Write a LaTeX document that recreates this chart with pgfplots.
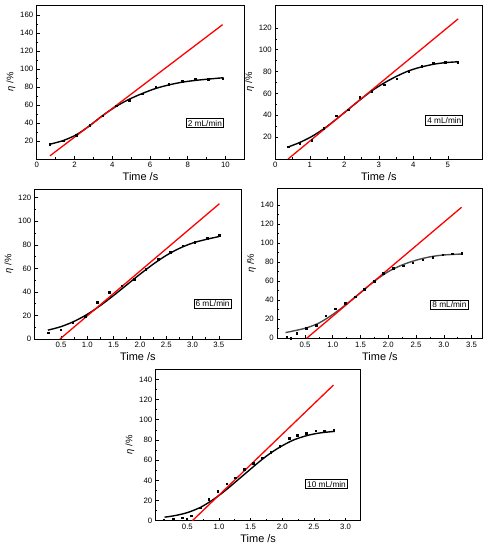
\documentclass[border=0pt]{standalone}
\usepackage{pgfplots}
\pgfplotsset{compat=1.18}
\usepackage{fontspec}
\setmainfont{Liberation Sans}
\tikzset{
  fitline/.style={black, line width=1.4pt, smooth, tension=0.5},
  pts/.style={only marks, mark=square*, mark size=0.75pt, black},
  tang/.style={red, line width=1.3pt},
  lab/.style={draw, line width=0.9pt, inner sep=1.6pt, font=\fontsize{8.3}{9}\selectfont, fill=white},
}
\pgfplotsset{panel/.style={
  scale only axis, anchor=south west,
  axis line style={line width=0.9pt},
  tick align=inside, xtick pos=bottom, ytick pos=left,
  tick style={black, line width=0.6pt},
  major tick length=3pt, minor tick length=1.8pt,
  minor x tick num=1, minor y tick num=1,
  ticklabel style={font=\fontsize{7.8}{8}\selectfont},
  /pgf/number format/assume math mode=true,
  xlabel style={font=\fontsize{11}{12}\selectfont, yshift=2pt},
  ylabel style={font=\fontsize{9.5}{10}\selectfont, yshift=-2pt},
  xlabel={Time /s}, ylabel={\textit{η} /\%},
}}
\begin{document}
\begin{tikzpicture}
\path[use as bounding box] (0,0) rectangle (489bp,550bp);
% Panel 1
\begin{axis}[panel, at={(36.7bp,391bp)}, width=207.6bp, height=154bp,
  xmin=0, xmax=11, ymin=0, ymax=171.5, xtick={0,2,...,10}, ytick={20,40,...,160}]
\addplot[fitline] coordinates {(0.7,16.5) (1.4,20.5) (2.1,27) (2.8,37) (3.5,48.5) (4.2,58.5) (4.9,66.5) (5.6,73) (6.3,78.5) (7.0,82.5) (7.7,85.5) (8.4,87.5) (9.1,89) (9.9,90.5)};
\addplot[pts] coordinates {(0.7,16.3) (1.4,20.4) (2.1,26.7) (2.8,37.5) (3.5,48.2) (4.2,59.4) (4.9,65.3) (5.6,72.7) (6.3,80.5) (7.0,83.5) (7.7,86.5) (8.4,88.7) (9.1,89) (9.85,89.4)};
\addplot[tang] coordinates {(0.7,3.5) (9.85,149.6)};
\node[lab] at (axis cs:8.91,40) {2 mL/min};
\end{axis}
% Panel 2
\begin{axis}[panel, at={(275.3bp,391bp)}, width=207bp, height=154bp,
  xmin=0, xmax=6, ymin=0, ymax=141, xtick={0,1,...,5}, ytick={20,40,...,120}]
\addplot[fitline] coordinates {(0.37,11) (0.7,15) (1.05,20.5) (1.4,27.5) (1.75,36) (2.1,45) (2.45,54) (2.8,62.5) (3.15,69.5) (3.5,75.5) (3.85,80.5) (4.2,84) (4.6,86.8) (4.95,88.3) (5.3,89)};
\addplot[pts] coordinates {(0.38,11.4) (0.71,14.4) (1.05,17.4) (1.41,28.3) (1.76,39.6) (2.12,45.1) (2.45,56.4) (2.80,62.2) (3.16,68.0) (3.52,73.5) (3.87,80.2) (4.24,84.9) (4.58,87.9) (4.92,88.8) (5.28,88.8)};
\addplot[tang] coordinates {(0.37,0) (5.30,128.3)};
\node[lab] at (axis cs:4.9,35.3) {4 mL/min};
\end{axis}
% Panel 3
\begin{axis}[panel, at={(34.7bp,211bp)}, width=206.3bp, height=150bp,
  xmin=0, xmax=3.92, ymin=0, ymax=127.4, xtick={0.5,1,...,3.5}, ytick={0,20,...,120},
  xticklabel style={/pgf/number format/.cd, fixed, fixed zerofill, precision=1}]
\addplot[fitline] coordinates {(0.25,7.5) (0.5,10.5) (0.75,15) (1.0,21) (1.25,28.5) (1.5,37) (1.75,46) (2.0,55) (2.25,63.5) (2.5,71) (2.75,77) (3.0,81.5) (3.25,84.5) (3.5,87)};
\addplot[pts] coordinates {(0.26,5.4) (0.49,7.9) (0.72,13.9) (0.96,19.5) (1.19,31.1) (1.42,39.6) (1.65,45.3) (1.89,50.9) (2.11,59.4) (2.35,67.9) (2.57,73.6) (2.81,79.3) (3.04,82.1) (3.28,85.5) (3.51,88.3)};
\addplot[tang] coordinates {(0.48,0) (3.51,114.9)};
\node[lab] at (axis cs:3.38,30) {6 mL/min};
\end{axis}
% Panel 4
\begin{axis}[panel, at={(277.2bp,211.7bp)}, width=205.5bp, height=150bp,
  xmin=0, xmax=3.7, ymin=0, ymax=157.5, xtick={0.5,1,...,3.5}, ytick={0,20,...,140},
  xticklabel style={/pgf/number format/.cd, fixed, fixed zerofill, precision=1}]
\addplot[fitline, black!70] coordinates {(0.15,6) (0.5,10.5) (0.75,16) (1.0,25) (1.25,36) (1.5,48) (1.75,60) (2.0,70) (2.25,77) (2.5,82) (2.75,85.5) (3.0,87.5) (3.33,88.5)};
\addplot[pts] coordinates {(0.17,1.8) (0.24,0.3) (0.35,5.3) (0.52,10.5) (0.70,14.0) (0.87,23.5) (1.04,31.2) (1.22,36.8) (1.40,43.8) (1.57,51.5) (1.75,59.9) (1.91,68.3) (2.09,73.5) (2.27,76) (2.44,79.5) (2.62,82.6) (2.80,85.1) (2.98,87.9) (3.15,88.6) (3.32,89.3)};
\addplot[tang] coordinates {(0.53,0) (3.32,137.6)};
\node[lab] at (axis cs:3.1,35.3) {8 mL/min};
\end{axis}
% Panel 5
\begin{axis}[panel, at={(155.7bp,29.3bp)}, width=205bp, height=151.4bp,
  xmin=0, xmax=3.24, ymin=0, ymax=150, xtick={0.5,1,...,3}, ytick={0,20,...,140},
  xticklabel style={/pgf/number format/.cd, fixed, fixed zerofill, precision=1}]
\addplot[fitline] coordinates {(0.14,3.5) (0.3,5) (0.5,8) (0.7,13) (0.85,18.5) (1.0,25) (1.15,32.5) (1.3,40.5) (1.45,48.5) (1.6,56.5) (1.75,64) (1.9,70.5) (2.05,76) (2.2,80.5) (2.4,84.5) (2.6,87) (2.83,88.5)};
\addplot[pts] coordinates {(0.13,0.8) (0.28,1.5) (0.42,3) (0.49,1.7) (0.56,4.8) (0.70,12.9) (0.84,21.1) (0.98,29.4) (1.12,36.6) (1.26,42.6) (1.40,50.8) (1.54,56.8) (1.68,62.4) (1.82,67.7) (1.96,74) (2.11,81.5) (2.24,84.8) (2.38,86.5) (2.53,89.1) (2.66,89.1) (2.81,89.5)};
\addplot[tang] coordinates {(0.58,0) (2.81,134.4)};
\node[lab] at (axis cs:2.7,36.1) {10 mL/min};
\end{axis}
\end{tikzpicture}
\end{document}
